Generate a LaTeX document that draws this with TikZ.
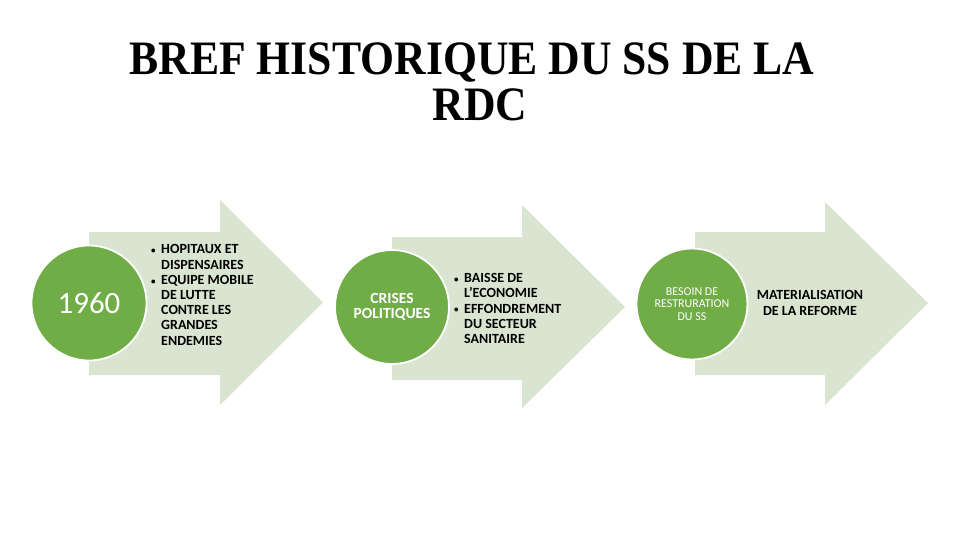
\documentclass[tikz,border=0pt]{standalone}
\usepackage{fontspec}
\setmainfont{Liberation Serif}
\newfontfamily\calfont{Carlito}
\definecolor{arrowfill}{HTML}{D9E4D1}
\definecolor{circgreen}{HTML}{70AD47}
\newcommand{\smallbul}{\makebox[11pt][l]{\hspace*{1pt}\raisebox{0.3pt}{\fontsize{9}{9}\selectfont\textbullet}}}
\begin{document}
\begin{tikzpicture}[x=1pt,y=-1pt,
  arrowshape/.style={fill=arrowfill},
  disc/.style={circle,fill=circgreen,draw=white,line width=1.8pt,inner sep=0pt,text=white,align=center},
  titletext/.style={anchor=base,inner sep=0pt,font=\bfseries\fontsize{48}{48}\selectfont,xscale=0.91,transform shape},
  listtext/.style={anchor=west,inner sep=0pt,align=left,font=\calfont\bfseries\fontsize{14}{15.2}\selectfont}]
\useasboundingbox (0,0) rectangle (960,540);
\fill[white] (0,0) rectangle (960,540);

% title
\node[titletext] (title1) at (472,74.5) {BREF HISTORIQUE DU SS DE LA};
\node[titletext] (title2) at (480,121) {RDC};

% arrows
\fill[arrowshape] (89,232) -- (220,232) -- (220,200) -- (323,302.5) -- (220,405) -- (220,375) -- (89,375) -- cycle;
\fill[arrowshape] (392,237) -- (522,237) -- (522,205) -- (625,307) -- (522,408) -- (522,380) -- (392,380) -- cycle;
\fill[arrowshape] (695,232) -- (825,232) -- (825,202) -- (928,303) -- (825,405) -- (825,375) -- (695,375) -- cycle;

% circles
\node[disc,minimum size=115pt,font=\calfont\fontsize{31}{31}\selectfont] (c1) at (89,303) {1960};
\node[disc,minimum size=114pt,font=\calfont\bfseries\fontsize{15.5}{15.5}\selectfont] (c2) at (392,307) {CRISES\\POLITIQUES};
\node[disc,minimum size=111pt,font=\calfont\fontsize{12}{12.5}\selectfont] (c3) at (692,304) {BESOIN DE\\RESTRURATION\\DU SS};

% lists
\node[listtext] (l1) at (150,295) {\smallbul HOPITAUX ET\\\hspace*{11pt}DISPENSAIRES\\\smallbul EQUIPE MOBILE\\\hspace*{11pt}DE LUTTE\\\hspace*{11pt}CONTRE LES\\\hspace*{11pt}GRANDES\\\hspace*{11pt}ENDEMIES};
\node[listtext] (l2) at (453,308.5) {\smallbul BAISSE DE\\\hspace*{11pt}L’ECONOMIE\\\smallbul EFFONDREMENT\\\hspace*{11pt}DU SECTEUR\\\hspace*{11pt}SANITAIRE};
\node[listtext,anchor=center,align=center] (l3) at (810,303) {MATERIALISATION\\DE LA REFORME};
\end{tikzpicture}
\end{document}
